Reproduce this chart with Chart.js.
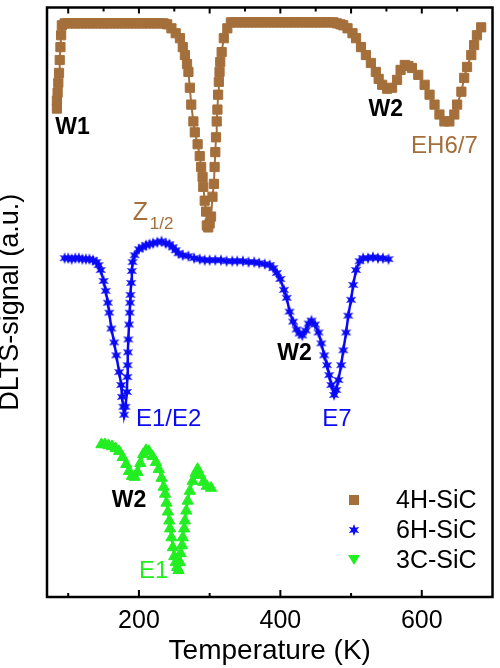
<!DOCTYPE html>
<html>
<head>
<meta charset="utf-8">
<script src="https://cdn.jsdelivr.net/npm/chart.js@4.4.1/dist/chart.umd.min.js"></script>
<style>
  html, body { margin: 0; padding: 0; background: #fff; }
  #wrap { width: 500px; height: 668px; }
</style>
</head>
<body>
<div id="wrap"><canvas id="dlts" width="500" height="668"></canvas></div>
<script>
const FONT = '"Liberation Sans", Arial, sans-serif';
const BROWN = '#A46F3B';
const BLUE = '#0A0AF5';
const GREEN = '#22EE22';

// 4H-SiC
const temp4H = [84, 84, 85, 86, 87, 88, 89, 90, 91,
  95, 100, 105, 110, 115, 120, 125, 130, 135, 140, 145, 150, 155, 160, 165, 170, 175, 180,
  185, 190, 195, 200, 205, 210, 215, 220, 225, 230, 235, 240, 246, 252, 258, 262, 265, 268,
  270, 272, 274, 277, 279, 283, 286, 288, 290, 291, 293, 295, 296, 298, 300, 302, 304, 306,
  307, 308, 309, 310, 311, 312, 313, 314, 315, 317, 320, 325, 330,
  335, 340, 345, 350, 355, 360, 365, 370, 375, 380, 385, 390, 395, 400, 405, 410, 415, 420,
  425, 430, 435, 440, 445, 450, 455, 460, 465, 470, 475, 480, 485, 489, 495, 502, 507, 514,
  521, 528, 535, 539, 544, 551, 558, 565, 570, 576, 581, 586, 595, 604, 611, 618, 625, 632,
  639, 646, 650, 656, 660, 664, 670, 674, 678, 684];
const sig4H = [493, 501, 509, 519, 529, 542, 555, 567, 577,
  579, 579, 579, 579, 579, 579, 579, 579, 579, 579, 579, 579, 579, 579, 579, 579, 579, 579,
  579, 579, 579, 579, 579, 579, 579, 579, 579, 579, 579, 578, 574, 569, 564, 555, 547, 538,
  530, 514, 497, 480, 469, 457, 445, 434, 424, 414, 400, 389, 375, 373, 377, 384, 404, 417,
  434, 449, 464, 480, 492, 507, 520, 530, 540, 550, 564, 574, 580,
  580, 580, 580, 580, 580, 580, 580, 580, 580, 580, 580, 580, 580, 580, 580, 580, 580, 580,
  580, 580, 580, 580, 580, 580, 580, 580, 580, 580, 580, 579, 578, 577, 574, 569, 564, 555,
  547, 539, 530, 523, 517, 513, 514, 522, 532, 537, 536, 534, 527, 517, 507, 497, 487, 480,
  480, 487, 497, 510, 524, 535, 547, 557, 567, 575];

// 6H-SiC
const temp6H = [95, 100, 105, 110, 115, 120, 125, 130, 135, 140, 143, 146, 150, 153, 156, 158,
  161, 165, 168, 172, 175, 176, 178, 179, 181, 183, 183.5, 184, 184.5, 185, 186, 187, 187.5,
  188, 189, 190, 191, 194, 200, 205, 210, 215, 220, 226, 232, 238, 243, 248, 252, 256, 262,
  270, 278, 286, 293, 300, 308, 316, 324, 332, 339, 347, 355, 363, 370, 378, 385, 390, 395,
  400, 405, 409, 413, 418, 423, 427, 431, 436, 440, 444, 449, 454, 458, 462, 466, 469, 472,
  476, 479, 482, 486, 489, 493, 496, 500, 503, 507, 512, 517, 524, 531, 538, 545, 553];
const sig6H = [342, 342, 341, 342, 342, 341, 341, 341, 340, 338, 335, 330, 319, 309, 297, 287,
  271, 257, 244, 227, 214, 202, 192, 184, 192, 207, 222, 234, 247, 260, 275, 287, 297,
  305, 317, 329, 338, 345, 351, 353, 355, 356, 357, 358, 359, 357, 356, 353, 350, 347, 345,
  344, 342, 341, 340, 340, 340, 340, 339, 339, 339, 339, 338, 338, 337, 336, 335, 332, 327,
  321, 310, 302, 288, 278, 270, 266, 264, 269, 276, 279, 275, 267, 256, 244, 234, 224, 214,
  204, 209, 219, 234, 249, 267, 284, 300, 315, 330, 339, 342, 342, 343, 342, 342, 341];

// 3C-SiC
const temp3C = [147, 152, 157, 162, 167, 172, 177, 182, 186, 190, 194, 198, 202, 206, 210, 214,
  219, 224, 228, 232, 235, 237, 239, 241, 243, 244, 246, 248, 250, 252, 254, 256, 258, 259,
  261, 262, 264, 265, 267, 269, 272, 276, 280, 283, 287, 291, 296, 302];
const sig3C = [154, 154, 153, 152, 150, 147, 141, 134, 127, 122, 121, 126, 135, 144, 148, 147,
  142, 136, 129, 120, 111, 104, 95, 86, 77, 69, 60, 50, 41, 35, 30, 27, 35, 44,
  52, 60, 69, 77, 87, 97, 107, 117, 125, 129, 123, 116, 112, 110];

const xMajorTicks = [200, 400, 600];
const xMinorTicks = [100, 300, 500];
const seriesNames = ['4H-SiC', '6H-SiC', '3C-SiC'];

function toPoints(ts, vs) {
  return ts.map((t, i) => ({ x: t, y: vs[i] }));
}

// маленькая шестиконечная звезда для 6H-SiC
function makeStar(color, r) {
  const c = document.createElement('canvas');
  const s = Math.ceil(r * 2) + 2;
  c.width = s;
  c.height = s;
  const g = c.getContext('2d');
  g.fillStyle = color;
  g.beginPath();
  for (let i = 0; i < 12; i++) {
    const a = -Math.PI / 2 + i * Math.PI / 6;
    const rr = i % 2 === 0 ? r : r * 0.45;
    g.lineTo(s / 2 + rr * Math.cos(a), s / 2 + rr * Math.sin(a));
  }
  g.closePath();
  g.fill();
  return c;
}
const starImg = makeStar(BLUE, 6);

// подписи пиков (координаты в единицах осей)
const peakLabels = [
  { text: 'W1', t: 106, v: 474, color: '#000', bold: true },
  { text: 'W2', t: 549, v: 492, color: '#000', bold: true },
  { text: 'EH6/7', t: 632, v: 455, color: BROWN },
  { text: 'E1/E2', t: 242, v: 179, color: BLUE },
  { text: 'W2', t: 420, v: 246, color: '#000', bold: true },
  { text: 'E7', t: 480, v: 179, color: BLUE },
  { text: 'W2', t: 186, v: 97, color: '#000', bold: true },
  { text: 'E1', t: 221, v: 26, color: GREEN }
];

const decorPlugin = {
  id: 'decor',
  afterDraw(chart) {
    const ctx = chart.ctx;
    const a = chart.chartArea;
    const xs = chart.scales.x;
    const ys = chart.scales.y;
    ctx.save();

    // рамка
    ctx.strokeStyle = '#000';
    ctx.lineWidth = 2.5;
    ctx.strokeRect(a.left, a.top, a.right - a.left, a.bottom - a.top);

    // засечки внутрь
    ctx.lineWidth = 2;
    ctx.beginPath();
    xMajorTicks.forEach(t => {
      const px = xs.getPixelForValue(t);
      ctx.moveTo(px, a.bottom); ctx.lineTo(px, a.bottom - 7);
    });
    xMinorTicks.forEach(t => {
      const px = xs.getPixelForValue(t);
      ctx.moveTo(px, a.bottom); ctx.lineTo(px, a.bottom - 4);
    });
    for (let t = 100; t <= 650; t += 50) {
      const px = xs.getPixelForValue(t);
      const len = t % 100 === 0 ? 6 : 4;
      ctx.moveTo(px, a.top); ctx.lineTo(px, a.top + len);
    }
    ctx.stroke();

    // подписи
    ctx.textAlign = 'center';
    ctx.textBaseline = 'middle';
    peakLabels.forEach(l => {
      ctx.font = (l.bold ? 'bold 23px ' : '24px ') + FONT;
      ctx.fillStyle = l.color;
      ctx.fillText(l.text, xs.getPixelForValue(l.t), ys.getPixelForValue(l.v));
    });
    ctx.fillStyle = BROWN;
    ctx.font = '25px ' + FONT;
    ctx.fillText('Z', xs.getPixelForValue(202), ys.getPixelForValue(387));
    ctx.font = '17px ' + FONT;
    ctx.fillText('1/2', xs.getPixelForValue(232), ys.getPixelForValue(376));

    // легенда
    const lx = 354;
    const rows = [500, 530, 560];
    ctx.fillStyle = BROWN;
    ctx.fillRect(lx - 5, rows[0] - 5, 10, 10);
    ctx.drawImage(starImg, lx - starImg.width / 2, rows[1] - starImg.height / 2);
    ctx.fillStyle = GREEN;
    ctx.beginPath();
    ctx.moveTo(lx - 6, rows[2] - 5);
    ctx.lineTo(lx + 6, rows[2] - 5);
    ctx.lineTo(lx, rows[2] + 5);
    ctx.closePath();
    ctx.fill();
    ctx.fillStyle = '#000';
    ctx.textAlign = 'left';
    ctx.font = '25px ' + FONT;
    seriesNames.forEach((n, i) => ctx.fillText(n, 396, rows[i] + 1));

    ctx.restore();
  }
};

new Chart(document.getElementById('dlts'), {
  type: 'scatter',
  data: {
    datasets: [
      {
        label: seriesNames[0],
        data: toPoints(temp4H, sig4H),
        showLine: true,
        borderColor: BROWN,
        backgroundColor: BROWN,
        borderWidth: 2,
        pointStyle: 'rect',
        pointRadius: 6.5,
        pointBorderWidth: 1
      },
      {
        label: seriesNames[1],
        data: toPoints(temp6H, sig6H),
        showLine: true,
        borderColor: BLUE,
        backgroundColor: BLUE,
        borderWidth: 2.5,
        pointStyle: starImg
      },
      {
        label: seriesNames[2],
        data: toPoints(temp3C, sig3C),
        showLine: true,
        borderColor: GREEN,
        backgroundColor: GREEN,
        borderWidth: 2.5,
        pointStyle: 'triangle',
        pointRadius: 6.5,
        pointBorderWidth: 1
      }
    ]
  },
  options: {
    responsive: false,
    animation: false,
    devicePixelRatio: 1,
    layout: { padding: { top: 2, right: 3, left: 0, bottom: 0 } },
    plugins: { legend: { display: false }, tooltip: { enabled: false } },
    scales: {
      x: {
        type: 'linear',
        min: 70,
        max: 700,
        grid: { display: false },
        border: { display: false },
        ticks: {
          stepSize: 100,
          padding: 1,
          color: '#000',
          font: { family: FONT, size: 25 },
          maxRotation: 0,
          autoSkip: false,
          callback: v => (xMajorTicks.includes(v) ? String(v) : '')
        },
        title: {
          display: true,
          text: 'Temperature (K)',
          color: '#000',
          font: { family: FONT, size: 28 },
          padding: 0
        },
        afterFit: s => { s.height = 71; }
      },
      y: {
        min: 0,
        max: 595,
        grid: { display: false },
        border: { display: false },
        ticks: { display: false },
        title: {
          display: true,
          text: 'DLTS-signal (a.u.)',
          color: '#000',
          font: { family: FONT, size: 27, lineHeight: 0.8 },
          padding: 0
        },
        afterFit: s => { s.width = 47; }
      }
    }
  },
  plugins: [decorPlugin]
});
</script>
</body>
</html>
